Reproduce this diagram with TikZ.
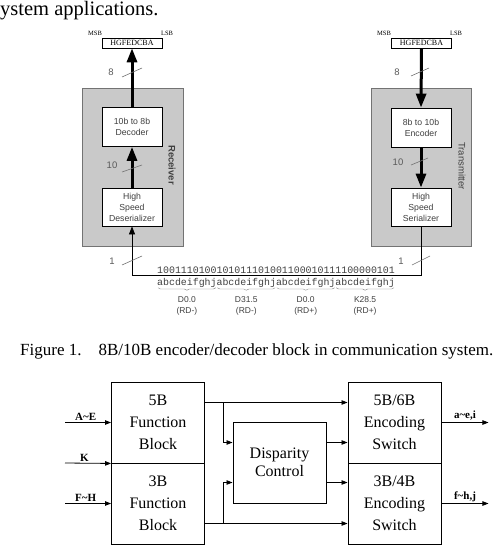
\documentclass[tikz,border=0pt]{standalone}
\usepackage{fontspec}
\setmainfont{Liberation Serif}
\setsansfont{Liberation Sans}
\setmonofont{Liberation Mono}
\usetikzlibrary{arrows.meta,decorations.pathreplacing}
\definecolor{zonegray}{gray}{0.79}
\definecolor{inkgray}{gray}{0.25}

\begin{document}
\begin{tikzpicture}[
        x=1pt, y=-1pt, % координаты в пикселях, ось y вниз
        zone/.style = {draw=black!55, fill=zonegray, line width=0.6pt, minimum width=100pt, minimum height=158pt}, % серые блоки
        cell/.style = {draw, fill=white, line width=0.8pt, align=center, text=inkgray, inner sep=1pt,
                       font=\sffamily\fontsize{8.7}{11}\selectfont, minimum width=60pt, minimum height=39pt}, % узлы рис. 1
        reg/.style = {draw, line width=0.6pt, inner sep=0pt, minimum width=60pt, minimum height=10pt,
                      font=\fontsize{8}{8}\selectfont},
        tag/.style = {font=\fontsize{6.5}{6.5}\selectfont, inner sep=0pt},
        fat/.style = {line width=3pt, -{Triangle[width=10pt,length=14pt]}}, % толстые стрелки
        wire/.style = {line width=0.8pt, -{Triangle[width=6pt,length=8pt]}},
        slash/.style = {draw=black!55, line width=0.6pt},
        num/.style = {font=\sffamily\fontsize{9.5}{9.5}\selectfont, text=black!65, inner sep=0pt},
        side/.style = {font=\sffamily\fontsize{9.5}{9.5}\selectfont, text=inkgray, rotate=-90, inner sep=0pt},
        bitrow/.style = {font=\ttfamily\fontsize{9.9}{9.9}\selectfont, text=inkgray, inner sep=0pt},
        brc/.style = {draw=black!50, line width=0.4pt, decorate, decoration={brace, mirror, amplitude=2.5pt}},
        code/.style = {font=\sffamily\fontsize{8.5}{10.5}\selectfont, text=inkgray, align=center, inner sep=0pt},
        blok/.style = {draw, line width=0.9pt, align=center, minimum width=93pt, minimum height=81pt, inner sep=0pt,
                       font=\fontsize{16}{22}\selectfont}, % узлы рис. 2
        sig/.style = {line width=0.8pt, -{Triangle[width=4.5pt,length=6pt]}},
        lbl/.style = {font=\bfseries\fontsize{11}{11}\selectfont, inner sep=1.5pt},
    ]
    \useasboundingbox (0,0) rectangle (500,545);

    \node[anchor=base west, font=\fontsize{20.5}{20.5}\selectfont, inner sep=0pt] (prev) at (0,15.5) {ystem applications.};

    % рис. 1: приемник
    \node[zone, minimum width=101pt] (rx) at (132.5,167) {};
    \node[side, font=\sffamily\bfseries\fontsize{9.5}{9.5}\selectfont] (rxname) at (172,165) {Receiver};
    \node[cell] (dec) at (132,127) {10b to 8b\\Decoder};
    \node[cell, minimum height=38pt] (des) at (132,207) {High\\Speed\\Deserializer};
    \node[reg] (rxreg) at (132,43) {HGFEDCBA};
    \node[tag] (rxmsb) at (95,33) {MSB};
    \node[tag] (rxlsb) at (167,33) {LSB};

    % рис. 1: передатчик
    \node[zone] (tx) at (421,167.5) {};
    \node[side] (txname) at (462,166) {Transmitter};
    \node[cell] (enc) at (421,127.5) {8b to 10b\\Encoder};
    \node[cell, minimum height=38pt] (ser) at (421,207) {High\\Speed\\Serializer};
    \node[reg] (txreg) at (421.5,43) {HGFEDCBA};
    \node[tag] (txmsb) at (384,33) {MSB};
    \node[tag] (txlsb) at (456,33) {LSB};

    \draw[fat] (dec.north) -- (rxreg.south);
    \draw[fat] (des.north) -- (dec.south);
    \draw[fat] (txreg.south) -- (enc.north);
    \draw[fat] (enc.south) -- (ser.north);

    \coordinate (lnk) at (132,275);
    \draw[wire] (ser.south) |- (lnk) -- (des.south);

    \draw[slash] (122,77) -- (142,68);   \node[num] (w8r) at (111,72) {8};
    \draw[slash] (122,172) -- (142,165); \node[num] (w10r) at (112,165) {10};
    \draw[slash] (122,265) -- (142,256); \node[num] (w1r) at (112,261) {1};
    \draw[slash] (411,76) -- (429,68);   \node[num] (w8t) at (397,72) {8};
    \draw[slash] (411,165) -- (428,158); \node[num] (w10t) at (398,162) {10};
    \draw[slash] (412,265) -- (430,256); \node[num] (w1t) at (401,261) {1};

    \foreach \i/\b/\nm/\rd in {1/1001110100/D0.0/RD-, 2/1010111010/D31.5/RD-,
                               3/0110001011/D0.0/RD+, 4/1100000101/K28.5/RD+}{
        \node[bitrow, anchor=base west] (g\i) at ({157+59.4*(\i-1)},273) {\b};
        \node[bitrow, anchor=base west] (a\i) at ({157+59.4*(\i-1)},285) {abcdeifghj};
        \draw[brc] ([xshift=1pt,yshift=-0.5pt]a\i.south west) -- ([xshift=-1pt,yshift=-0.5pt]a\i.south east);
        \node[code, anchor=north] (c\i) at ([yshift=-9.5pt]a\i.south) {\nm\\(\rd)};
    }

    \node[anchor=base west, font=\fontsize{17}{17}\selectfont, inner sep=0pt] (cap) at (20,355)
        {Figure 1.\quad 8B/10B encoder/decoder block in communication system.};

    % рис. 2
    \node[blok] (fb5) at (158,422.5) {5B\\Function\\Block};
    \node[blok] (fb3) at (158,503.5) {3B\\Function\\Block};
    \node[blok, font=\fontsize{16}{18}\selectfont] (dc) at (279.5,462.5) {Disparity\\Control};
    \node[blok] (es56) at (394.5,422.5) {5B/6B\\Encoding\\Switch};
    \node[blok] (es34) at (394.5,503.5) {3B/4B\\Encoding\\Switch};

    \coordinate (inAE) at (65,422.5);
    \coordinate (inK) at (65,463);
    \coordinate (inFH) at (65,503.5);
    \draw[sig] (inAE) -- (fb5.west) node[lbl, pos=0.45, above] {A\textasciitilde E};
    \draw[sig] (inK) -- (fb5.south west) node[lbl, pos=0.42, above] {K};
    \draw[sig] (inFH) -- (fb3.west) node[lbl, pos=0.45, above] {F\textasciitilde H};

    \draw[sig] ([yshift=20pt]fb5.east) coordinate (o5) -- (o5 -| es56.west);
    \draw[sig] (o5) ++(18,0) |- ([yshift=20pt]dc.west);
    \draw[sig] ([yshift=-20pt]fb3.east) coordinate (o3) -- (o3 -| es34.west);
    \draw[sig] (o3) ++(18,0) |- ([yshift=-20pt]dc.west);
    \draw[sig] ([yshift=20pt]dc.east) coordinate (d5) -- (d5 -| es56.west);
    \draw[sig] ([yshift=-20pt]dc.east) coordinate (d3) -- (d3 -| es34.west);

    \draw[sig] (es56.east) -- ++(47,0) node[lbl, midway, above] {a\textasciitilde e,i};
    \draw[sig] (es34.east) -- ++(47,0) node[lbl, midway, above] {f\textasciitilde h,j};

\end{tikzpicture}
\end{document}
